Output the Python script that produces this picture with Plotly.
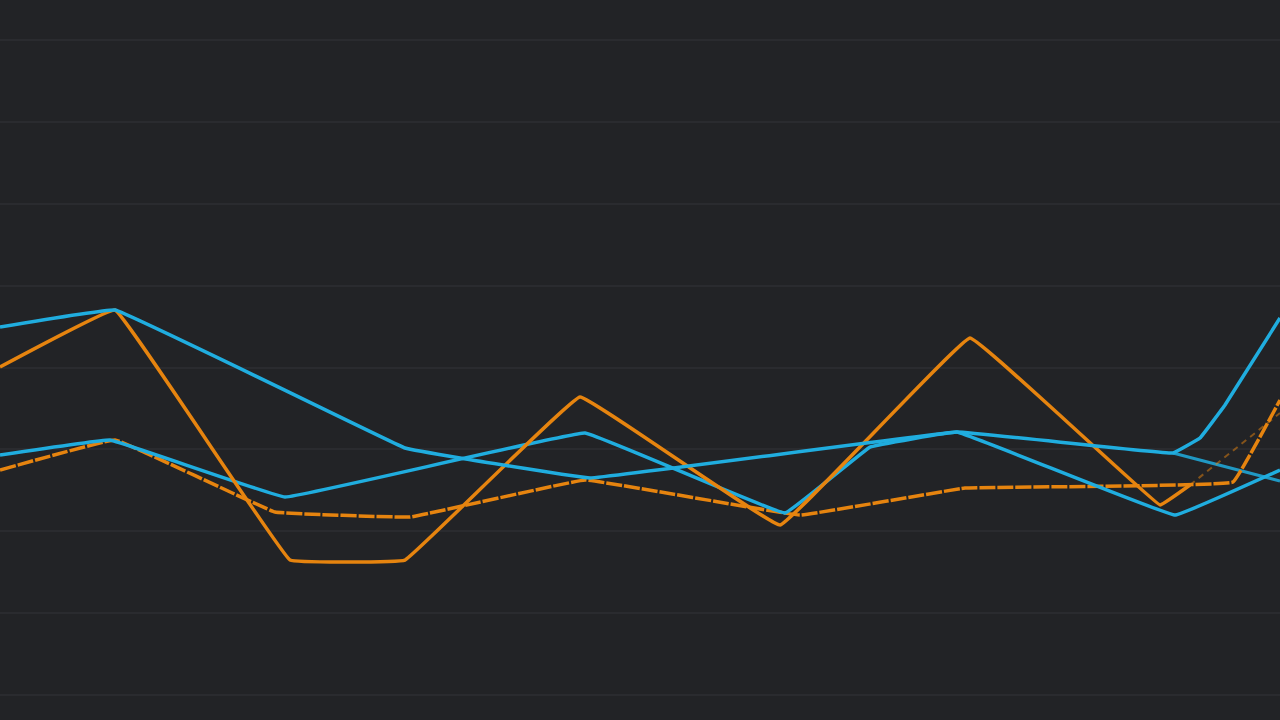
import plotly.graph_objects as go

# ---- data (x: time position, y: value) ----
blue_upper_x = [0, 11.5, 40.5, 46, 59, 95.7, 117.3, 120, 122.5, 128]
blue_upper_y = [44.95, 47.02, 30.17, 28.95, 26.50, 32.12, 29.56, 31.39, 35.42, 46.05]

blue_lower_x = [0, 11, 28.5, 58.5, 78.5, 87, 95.7, 117.5, 128]
blue_lower_y = [29.31, 31.15, 24.18, 32.00, 22.23, 30.29, 32.12, 21.98, 27.48]

blue_ghost_x = [117.3, 128]
blue_ghost_y = [29.56, 26.14]

orange_solid_x = [0, 11.5, 29, 40.5, 58, 78, 97, 116, 119]
orange_solid_y = [40.06, 47.02, 16.49, 16.49, 36.40, 20.76, 43.60, 23.21, 25.65]

orange_ghost_x = [119, 128]
orange_ghost_y = [25.65, 34.44]

orange_dash_x = [0, 11.5, 27.5, 41, 58.5, 80, 96.5, 123.3, 128]
orange_dash_y = [27.48, 31.15, 22.35, 21.74, 26.26, 21.98, 25.28, 26.02, 36.03]

BG = "#222326"
GRID = "#2a2b2f"
BLUE = "#20addf"
ORANGE = "#e6840f"
SMOOTH = 0.15

fig = go.Figure()
fig.add_trace(go.Scatter(x=blue_ghost_x, y=blue_ghost_y, mode="lines",
                         line=dict(color=BLUE, width=3), opacity=0.85))
fig.add_trace(go.Scatter(x=orange_ghost_x, y=orange_ghost_y, mode="lines",
                         line=dict(color=ORANGE, width=2, dash="6px,5px"), opacity=0.5))
fig.add_trace(go.Scatter(x=orange_dash_x, y=orange_dash_y, mode="lines",
                         line=dict(color=ORANGE, width=3.5, dash="16px,2px",
                                   shape="spline", smoothing=SMOOTH)))
fig.add_trace(go.Scatter(x=blue_lower_x, y=blue_lower_y, mode="lines",
                         line=dict(color=BLUE, width=3.5, shape="spline", smoothing=SMOOTH)))
fig.add_trace(go.Scatter(x=orange_solid_x, y=orange_solid_y, mode="lines",
                         line=dict(color=ORANGE, width=3.5, shape="spline", smoothing=SMOOTH)))
fig.add_trace(go.Scatter(x=blue_upper_x, y=blue_upper_y, mode="lines",
                         line=dict(color=BLUE, width=3.5, shape="spline", smoothing=SMOOTH)))

fig.update_layout(
    width=1280, height=720,
    margin=dict(l=0, r=0, t=0, b=0),
    paper_bgcolor=BG, plot_bgcolor=BG,
    showlegend=False,
    xaxis=dict(range=[0, 128], showgrid=False, zeroline=False,
               showticklabels=False, visible=True),
    yaxis=dict(range=[-3.05, 84.89], tick0=0, dtick=10, showgrid=True,
               gridcolor=GRID, gridwidth=2, zeroline=False,
               showticklabels=False),
)

fig.write_html("out.html")
